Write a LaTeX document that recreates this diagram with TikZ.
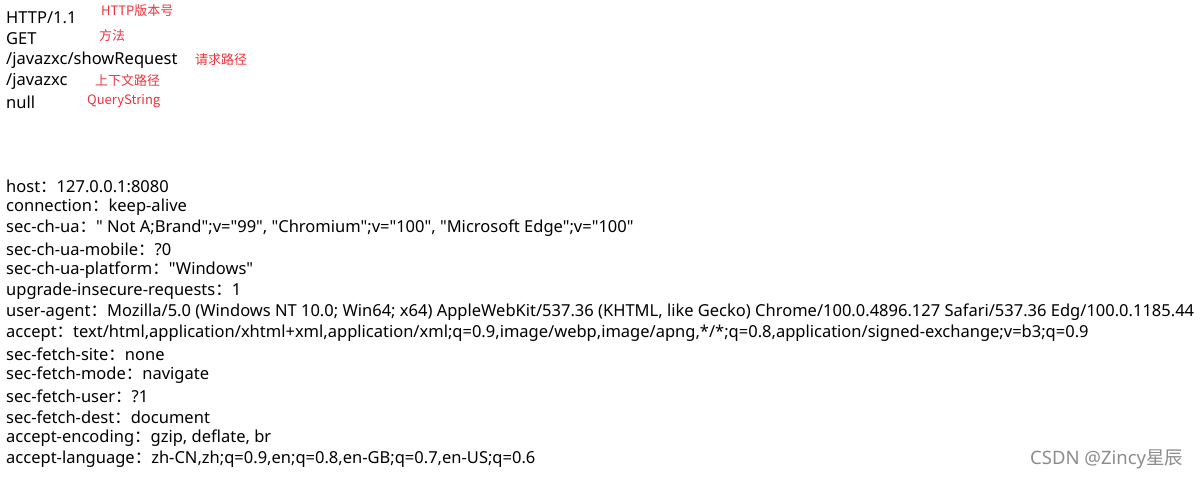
\documentclass[tikz,border=0pt]{standalone}
\usepackage{fontspec}
\setmainfont{Noto Sans}[Ligatures=TeXOff]
\newfontfamily\cjk{Noto Sans CJK SC}[Ligatures=TeXOff]
\definecolor{redlbl}{HTML}{F0323C}
\newcommand{\cc}{{\cjk ：}}
\begin{document}
\begin{tikzpicture}[x=1pt,y=-1pt,
  txt/.style={anchor=west,inner sep=0pt,font=\fontsize{16.5}{18}\selectfont,text=black},
  lbl/.style={anchor=west,inner sep=0pt,font=\cjk\fontsize{13}{15}\selectfont,text=redlbl}]
\useasboundingbox (0,0) rectangle (1202,478);
\node[txt] (l1) at (6,18) {HTTP/1.1};
\node[txt] (l2) at (6,39) {GET};
\node[txt] (l3) at (6,60) {/javazxc/showRequest};
\node[txt] (l4) at (6,81) {/javazxc};
\node[txt] (l5) at (6,102) {null};
\node[lbl] (a1) at (101,11) {HTTP版本号};
\node[lbl] (a2) at (99,36) {方法};
\node[lbl] (a3) at (195,60) {请求路径};
\node[lbl] (a4) at (95,81) {上下文路径};
\node[lbl] (a5) at (87,101) {QueryString};
\foreach \t [count=\i from 0] in {
 host\cc 127.0.0.1:8080,
 connection\cc keep-alive,
 {sec-ch-ua\cc " Not A;Brand";v="99", "Chromium";v="100", "Microsoft Edge";v="100"},
 sec-ch-ua-mobile\cc ?0,
 sec-ch-ua-platform\cc "Windows",
 upgrade-insecure-requests\cc 1,
 {user-agent\cc Mozilla/5.0 (Windows NT 10.0; Win64; x64) AppleWebKit/537.36 (KHTML, like Gecko) Chrome/100.0.4896.127 Safari/537.36 Edg/100.0.1185.44},
 {accept\cc text/html,application/xhtml+xml,application/xml;q=0.9,image/webp,image/apng,*/*;q=0.8,application/signed-exchange;v=b3;q=0.9},
 sec-fetch-site\cc none,
 sec-fetch-mode\cc navigate,
 sec-fetch-user\cc ?1,
 sec-fetch-dest\cc document,
 {accept-encoding\cc gzip, deflate, br},
 {accept-language\cc zh-CN,zh;q=0.9,en;q=0.8,en-GB;q=0.7,en-US;q=0.6}}
 {\node[txt] (h\i) at (6,186+21*\i) {\t};}
\node[anchor=west,inner sep=0pt,font=\fontsize{18.5}{20}\selectfont,text=black!45] (wm) at (1030,459) {CSDN @Zincy{\cjk 星辰}};
\end{tikzpicture}
\end{document}
